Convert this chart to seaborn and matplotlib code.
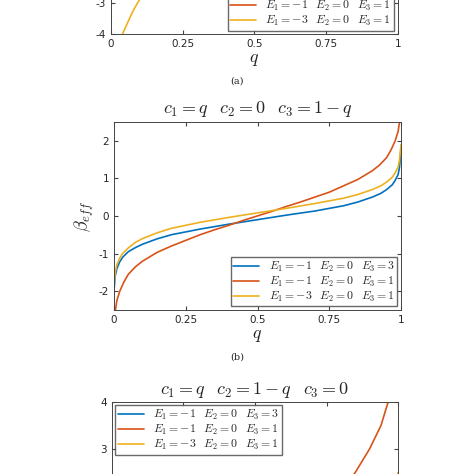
import matplotlib
matplotlib.use("Agg")
import matplotlib.pyplot as plt
import seaborn as sns
import pandas as pd

sns.set_style("ticks")
plt.rcParams["font.family"] = ["DejaVu Sans"]
plt.rcParams["mathtext.fontset"] = "cm"

colors = ["#0072BD", "#D95319", "#EDB120"]
labels = [r"$E_1=-1\;\;\;E_2=0\;\;\;E_3=3$",
          r"$E_1=-1\;\;\;E_2=0\;\;\;E_3=1$",
          r"$E_1=-3\;\;\;E_2=0\;\;\;E_3=1$"]

# panel (b): c1=q, c2=0, c3=1-q
q_blue = [0.001, 0.004, 0.01, 0.02, 0.03, 0.05, 0.075, 0.1, 0.15, 0.2, 0.3, 0.4, 0.5, 0.6, 0.7, 0.8,
          0.85, 0.9, 0.93, 0.95, 0.97, 0.98, 0.99, 0.995, 1.0]
b_blue = [-1.9, -1.6, -1.4, -1.22, -1.1, -0.95, -0.84, -0.75, -0.61, -0.5, -0.35, -0.22, -0.1, 0.02,
          0.13, 0.27, 0.37, 0.5, 0.6, 0.7, 0.83, 0.95, 1.1, 1.3, 1.8]
q_red = [0.005, 0.01, 0.02, 0.035, 0.05, 0.075, 0.1, 0.15, 0.2, 0.25, 0.3, 0.35, 0.4, 0.45, 0.5, 0.55,
         0.6, 0.65, 0.7, 0.75, 0.8, 0.85, 0.9, 0.925, 0.95, 0.965, 0.98, 0.99, 0.995]
b_red = [-2.5, -2.25, -2.0, -1.75, -1.55, -1.35, -1.2, -0.97, -0.8, -0.65, -0.5, -0.37, -0.25, -0.12,
         0.0, 0.12, 0.25, 0.37, 0.5, 0.63, 0.8, 0.97, 1.2, 1.35, 1.55, 1.75, 2.0, 2.25, 2.5]
q_yel = [0.001, 0.004, 0.01, 0.02, 0.03, 0.05, 0.075, 0.1, 0.15, 0.2, 0.3, 0.4, 0.5, 0.6, 0.7, 0.8,
         0.85, 0.9, 0.93, 0.95, 0.97, 0.98, 0.99, 0.995, 1.0]
b_yel = [-1.8, -1.5, -1.3, -1.12, -1.0, -0.85, -0.7, -0.6, -0.45, -0.33, -0.17, -0.04, 0.08, 0.2,
         0.33, 0.47, 0.57, 0.7, 0.8, 0.9, 1.03, 1.15, 1.3, 1.5, 1.9]

# panel (a): only the low end of the yellow curve is visible
qa_yel = [0.04, 0.05, 0.06, 0.075, 0.09, 0.1]
ba_yel = [-4.0, -3.8, -3.6, -3.3, -3.05, -2.9]

# panel (c): c1=q, c2=1-q, c3=0
qc_red = [0.76, 0.8, 0.85, 0.9, 0.94, 0.965]
bc_red = [1.8, 2.05, 2.5, 3.0, 3.5, 4.0]
qc_yel = [0.997, 0.998, 0.999]
bc_yel = [1.5, 2.0, 2.5]

xt = [0, 0.25, 0.5, 0.75, 1]
xtl = ["0", "0.25", "0.5", "0.75", "1"]

fig = plt.figure(figsize=(4.74, 4.74), dpi=100)
ax_a = fig.add_axes([0.234, 0.928, 0.605, 0.397])
ax_b = fig.add_axes([0.2405, 0.346, 0.6055, 0.397])
ax_c = fig.add_axes([0.236, -0.245, 0.604, 0.397])


def style(ax, ylim, yt):
    ax.set_xlim(0, 1)
    ax.set_ylim(*ylim)
    ax.set_xticks(xt)
    ax.set_xticklabels(xtl)
    ax.set_yticks(yt)
    ax.set_yticklabels([str(v) for v in yt])
    ax.tick_params(labelsize=7.5, direction="in", top=True, right=True, length=3, color="#444444")
    for s in ax.spines.values():
        s.set_color("#444444")
        s.set_linewidth(0.7)


leg_kw = dict(fontsize=8.5, frameon=True, fancybox=False, edgecolor="#444444",
              borderpad=0.2, labelspacing=0.1, handlelength=2.2, borderaxespad=0.3)

# (a)
ax_a.plot([], [], color=colors[0], lw=1.2, label=labels[0])
ax_a.plot([], [], color=colors[1], lw=1.2, label=labels[1])
sns.lineplot(x=qa_yel, y=ba_yel, ax=ax_a, color=colors[2], lw=1.2, label=labels[2])
style(ax_a, (-4, 2), [-4, -3])
ax_a.legend(loc="lower right", **leg_kw)
ax_a.set_xlabel("$q$", fontsize=13, labelpad=1)
fig.text(0.5, 1 - 81 / 474, "(a)", ha="center", va="center", fontsize=7, family="serif")

# (b)
df_b = pd.concat([
    pd.DataFrame({"q": q_blue, "beta": b_blue, "case": labels[0]}),
    pd.DataFrame({"q": q_red, "beta": b_red, "case": labels[1]}),
    pd.DataFrame({"q": q_yel, "beta": b_yel, "case": labels[2]}),
])
sns.lineplot(data=df_b, x="q", y="beta", hue="case", palette=colors, ax=ax_b, lw=1.2, sort=False)
style(ax_b, (-2.5, 2.5), [-2, -1, 0, 1, 2])
ax_b.legend(loc="lower right", title=None, **leg_kw)
ax_b.set_xlabel("$q$", fontsize=13, labelpad=1)
ax_b.set_ylabel(r"$\beta_{eff}$", fontsize=13, labelpad=2)
ax_b.set_title(r"$c_1=q\;\;\;c_2=0\;\;\;c_3=1-q$", fontsize=13, pad=6)
fig.text(0.5, 1 - 357 / 474, "(b)", ha="center", va="center", fontsize=7, family="serif")

# (c)
ax_c.plot([], [], color=colors[0], lw=1.2, label=labels[0])
sns.lineplot(x=qc_red, y=bc_red, ax=ax_c, color=colors[1], lw=1.2, label=labels[1])
sns.lineplot(x=qc_yel, y=bc_yel, ax=ax_c, color=colors[2], lw=1.2, label=labels[2])
style(ax_c, (0, 4), [3, 4])
ax_c.legend(loc="upper left", **leg_kw)
ax_c.set_title(r"$c_1=q\;\;\;c_2=1-q\;\;\;c_3=0$", fontsize=13, pad=6)

fig.savefig("out.png", dpi=100)
